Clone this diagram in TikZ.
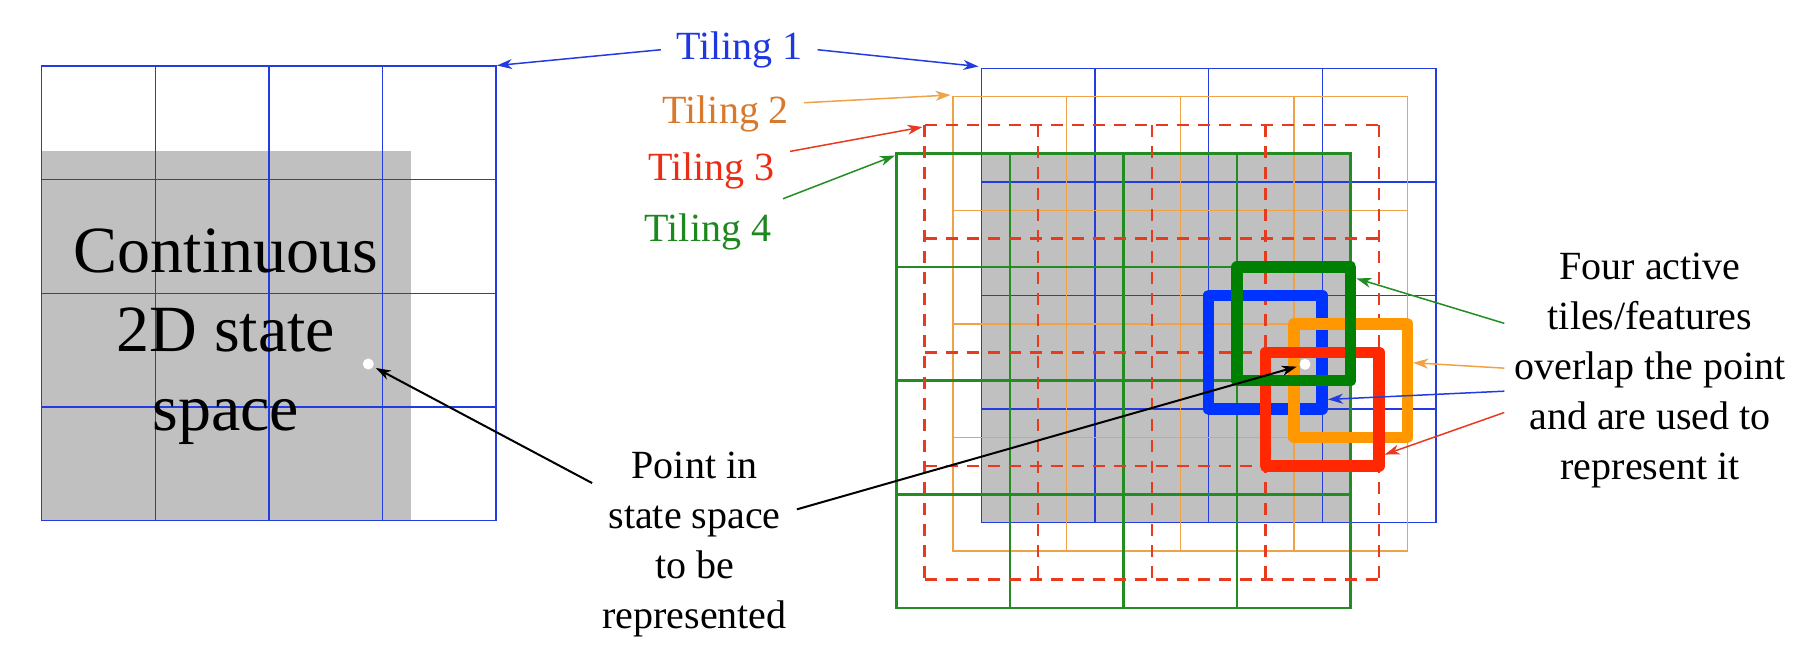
\documentclass[tikz,border=0pt]{standalone}
\usepackage{fontspec}
\setmainfont{Liberation Serif}
\usetikzlibrary{arrows.meta}
\definecolor{tblue}{RGB}{35,60,225}
\definecolor{torange}{RGB}{240,162,70}
\definecolor{tred}{RGB}{232,58,30}
\definecolor{tgreen}{RGB}{35,140,35}
\definecolor{txtblue}{RGB}{30,55,225}
\definecolor{txtorange}{RGB}{215,122,45}
\definecolor{txtred}{RGB}{235,45,20}
\definecolor{txtgreen}{RGB}{30,135,30}
\definecolor{kblue}{RGB}{0,51,255}
\definecolor{korange}{RGB}{255,152,0}
\definecolor{kred}{RGB}{255,40,0}
\definecolor{kgreen}{RGB}{0,128,0}
\definecolor{areagray}{RGB}{192,192,192}
\newcommand{\mytiling}[3]{%
  \foreach \i in {0,...,4}{%
    \draw[#3] ({#1+\i*113.6},{#2}) -- ({#1+\i*113.6},{#2+454.4});
    \draw[#3] ({#1},{#2+\i*113.6}) -- ({#1+454.4},{#2+\i*113.6});
  }}
\tikzset{
  gone/.style={tblue, line width=1.4pt, line cap=rect},
  gtwo/.style={torange, line width=1.4pt, line cap=rect},
  gthree/.style={tred, line width=2.4pt, dash pattern=on 12pt off 9pt},
  gfour/.style={tgreen, line width=2.6pt, line cap=rect},
  statearea/.style={fill=areagray},
  tile/.style={rectangle, minimum width=113.6pt, minimum height=113.6pt, inner sep=0pt, line width=11.5pt, line join=round},
  dot/.style={circle, fill=white, minimum size=11pt, inner sep=0pt, outer sep=3pt},
  lab/.style={font=\fontsize{40}{50}\selectfont, align=center, inner sep=10pt},
  tlab/.style={font=\fontsize{40}{50}\selectfont, anchor=base, inner sep=15pt},
  arr/.style={-{Stealth[length=15pt,width=10pt,inset=4.5pt]}, line width=1.5pt},
  blk/.style={arr, black, line width=2pt}
}
\begin{document}
\begin{tikzpicture}[x=1pt,y=-1pt]
\useasboundingbox (0,0) rectangle (1801,668);
% shaded state spaces
\path[statearea] (41.6,151.4) rectangle (410.8,520.6);
\path[statearea] (981.4,153.5) rectangle (1350.6,522.7);
% tilings
\mytiling{41.6}{66.2}{gone}
\mytiling{981.4}{68.3}{gone}
\mytiling{953}{96.7}{gtwo}
\mytiling{896.2}{153.5}{gfour}
\mytiling{924.6}{125.1}{gthree}
% active tiles
\node[tile, draw=kblue] (bt) at (1265.4,352.3) {};
\node[tile, draw=korange] (ot) at (1350.6,380.7) {};
\node[tile, draw=kred] (rt) at (1322.2,409.1) {};
\node[tile, draw=kgreen] (gt) at (1293.8,323.9) {};
% points
\node[dot] (pt1) at (368.3,364) {};
\node[dot] (pt2) at (1305,364.3) {};
% corner coordinates
\coordinate (c1L) at (497,65.5);
\coordinate (c1R) at (978.5,66.5);
\coordinate (c2) at (950.5,95);
\coordinate (c3) at (922.5,127);
\coordinate (c4) at (895,155.5);
% labels
\node[font=\fontsize{66}{79}\selectfont, align=center, inner sep=0pt] (cs) at (226,336.6) {Continuous\\2D state\\space};
\node[tlab, text=txtblue] (t1) at (739.2,59.3) {Tiling 1};
\node[tlab, text=txtorange] (t2) at (725.8,123.3) {Tiling 2};
\node[tlab, text=txtred] (t3) at (711.7,180.5) {Tiling 3};
\node[tlab, text=txtgreen] (t4) at (708,241.7) {Tiling 4};
\node[lab] (p) at (694.5,544.6) {Point in\\state space\\to be\\represented};
\node[lab] (f) at (1650,370.7) {Four active\\tiles/features\\overlap the point\\and are used to\\represent it};
% arrows
\draw[arr, tblue] (t1.west) -- (c1L);
\draw[arr, tblue] (t1.east) -- (c1R);
\draw[arr, torange] (t2.8) -- (c2);
\draw[arr, tred] (t3.14) -- (c3);
\draw[arr, tgreen] (t4.24) -- (c4);
\draw[blk] (p.149) -- (pt1);
\draw[blk] (p.19) -- (pt2);
\draw[arr, tgreen] (f.162) -- (gt.36);
\draw[arr, torange] (f.179) -- (ot.16);
\draw[arr, tblue] (f.188) -- (bt.-37);
\draw[arr, tred] (f.196) -- (rt.-36);
\end{tikzpicture}
\end{document}
